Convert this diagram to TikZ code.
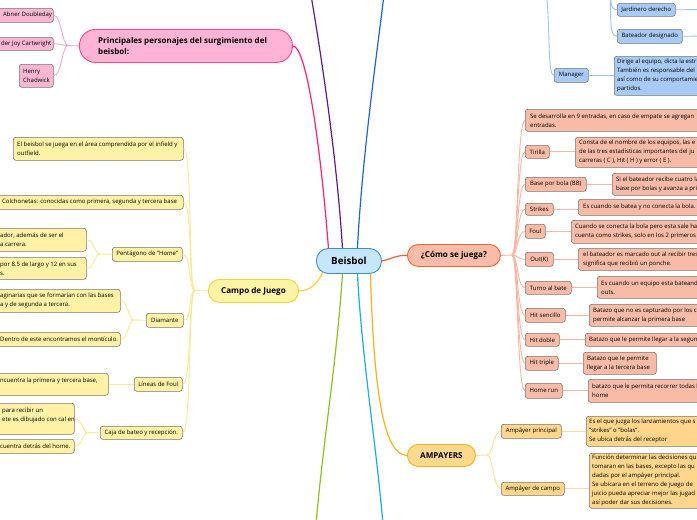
\documentclass[tikz,border=0pt]{standalone}
\usepackage{fontspec}
\setmainfont{Open Sans}
\newfontfamily\headfont{Open Sans}
\definecolor{kidline}{HTML}{7A7470}
\definecolor{pinkkid}{HTML}{F9B6D3}
\definecolor{yelkid}{HTML}{FFF1A6}
\definecolor{salkid}{HTML}{F8BBA7}
\definecolor{ampkid}{HTML}{FFD68C}
\definecolor{bluekid}{HTML}{A8CAF6}
\definecolor{pinkmain}{HTML}{FF2078}
\definecolor{pinkfill}{HTML}{FFB3D5}
\definecolor{pinkthin}{HTML}{F8A6CA}
\definecolor{purplemain}{HTML}{5C1A8A}
\definecolor{bluemain}{HTML}{2262D8}
\definecolor{greenmain}{HTML}{8CC21E}
\definecolor{cyanmain}{HTML}{1AAAF0}
\definecolor{orangemain}{HTML}{F8B218}
\definecolor{ampfill}{HTML}{FFD98C}
\definecolor{ampthin}{HTML}{FFDC94}
\definecolor{yelmain}{HTML}{F2D53A}
\definecolor{yelfill}{HTML}{FFF4A3}
\definecolor{yelthin}{HTML}{F8EA92}
\definecolor{salmain}{HTML}{F5622E}
\definecolor{salfill}{HTML}{F9BCA8}
\definecolor{salthin}{HTML}{F9B5A0}
\definecolor{beisfill}{HTML}{C6E7FA}
\definecolor{beisline}{HTML}{3A8ED6}
\definecolor{bluethin}{HTML}{9EC3F0}
\newcommand\kid[8][4]{%
  \node[#2, minimum width=#6pt, minimum height=#7pt] (#3) at (#4,#5) {};
  \node[txt] (#3t) at ([xshift=#1pt]#3.west) {#8};}
\newcommand\lab[7]{%
  \node[#1, minimum width=#5pt, minimum height=#6pt] (#2) at (#3,#4) {#7};}
\begin{document}
\begin{tikzpicture}[x=1pt,y=-1pt,
  box/.style={rectangle, rounded corners=2.5pt, draw=kidline, line width=0.6pt, inner sep=0pt, anchor=north west, font=\fontsize{6}{9}\selectfont},
  txt/.style={inner sep=0pt, anchor=west, align=left, font=\fontsize{6}{9}\selectfont},
  pkb/.style={box, fill=pinkkid}, ylb/.style={box, fill=yelkid}, sab/.style={box, fill=salkid},
  amb/.style={box, fill=ampkid}, blb/.style={box, fill=bluekid},
  head/.style={rectangle, inner sep=0pt, anchor=north west, line width=0.9pt, font=\headfont\bfseries\fontsize{8.1}{11}\selectfont},
  mainline/.style={line width=1.2pt},
  thin/.style={line width=0.9pt},
]
\useasboundingbox (0,0) rectangle (697,520);
\clip (0,0) rectangle (697,520);
\fill[white] (0,0) rectangle (697,520);

% ---------- central and main nodes ----------
\node[head, rounded corners=12pt, fill=beisfill, draw=beisline, minimum width=65pt, minimum height=25pt, font=\headfont\bfseries\fontsize{9.8}{11}\selectfont] (beis) at (316,248) {Beisbol};
\node[head, rounded corners=16pt, fill=pinkfill, draw=pinkmain!85, minimum width=213pt, minimum height=33pt] (pp) at (79,29) {};
\node[txt, font=\headfont\bfseries\fontsize{8}{11.5}\selectfont] (ppt) at ([xshift=19pt]pp.west) {Principales personajes del surgimiento del\\beisbol:};
\node[head, rounded corners=11pt, fill=yelfill, draw=yelmain, minimum width=90pt, minimum height=23pt] (campo) at (208,279) {Campo de Juego};
\node[head, rounded corners=11pt, fill=salfill, draw=salmain, minimum width=93pt, minimum height=22pt] (como) at (407,244) {¿Cómo se juega?};
\node[head, rounded corners=11pt, fill=ampfill, draw=orangemain, minimum width=68pt, minimum height=22pt] (amp) at (407,444) {AMPAYERS};

% ---------- main branches ----------
\coordinate (ptop) at (311,-5);
\coordinate (btop) at (384,-5);
\coordinate (gbot) at (316,525);
\coordinate (cbot) at (383,525);
\draw[mainline, pinkmain] (pp.east) .. controls (306,46) and (320,140) .. ([xshift=-20.5pt]beis.north);
\draw[mainline, purplemain] ([xshift=-6.5pt]beis.north) .. controls (337,160) and (322,60) .. (ptop);
\draw[mainline, bluemain] ([xshift=8.5pt]beis.north) .. controls (362,160) and (376,60) .. (btop);
\draw[mainline, greenmain] ([xshift=-6.5pt]beis.south) .. controls (337,360) and (322,450) .. (gbot);
\draw[mainline, cyanmain] ([xshift=8.5pt]beis.south) .. controls (362,360) and (377,450) .. (cbot);
\draw[mainline, orangemain] ([xshift=21.5pt]beis.south) .. controls (374,400) and (385,455) .. (amp.west);
\draw[mainline, yelmain] ([xshift=7pt,yshift=2pt]beis.south west) .. controls (316,287) and (308,290.5) .. (campo.east);
\draw[mainline, salmain] (beis.east) .. controls (392,259) and (396,255) .. (como.west);

% ---------- pink ----------
\kid[6]{pkb}{abner}{-3}{8}{56}{14}{Abner Doubleday}
\kid[4]{pkb}{cart}{-3}{37}{56}{13}{der Joy Cartwright}
\kid[4]{pkb}{henry}{19}{64}{34}{23}{Henry\\Chadwick}
\coordinate (jp) at (68,45.5);
\draw[thin, pinkthin] (pp.west) -- (jp);
\foreach \n in {abner,cart,henry} \draw[thin, pinkthin] (jp) .. controls +(-6,0) and +(8,0) .. (\n.east);

% ---------- yellow ----------
\kid[4]{ylb}{y1}{13}{137}{170}{23}{El beisbol se juega en el área comprendida por el infield y\\outfield.}
\kid[5]{ylb}{y2}{-3}{195}{186}{14}{Colchonetas: conocidas como primera, segunda y tercera base}
\lab{ylb}{pent}{112}{247}{70}{14}{Pentágono de "Home"}
\kid[3]{ylb}{ya}{-3}{228}{89}{23}{ador, además de ser el\\a carrera.}
\kid[3]{ylb}{yb}{-3}{257}{89}{22}{por 8.5 de largo y 12 en sus\\s.}
\lab{ylb}{diam}{146}{313}{37}{14}{Diamante}
\kid[3]{ylb}{yc}{-3}{289}{123}{23}{aginarias que se formarían con las bases\\a y de segunda a tercera.}
\kid[3]{ylb}{yd}{-3}{332}{123}{14}{Dentro de este encontramos el montículo.}
\lab{ylb}{lfoul}{134}{377}{48}{14}{Líneas de Foul}
\kid[3]{ylb}{ye}{-3}{373}{111}{22}{ncuentra la primera y tercera base,\\\mbox{}}
\lab{ylb}{caja}{100}{426}{82}{13}{Caja de bateo y recepción.}
\kid[5]{ylb}{yf}{-3}{403}{77}{31}{para recibir un\\ete es dibujado con cal en\\\mbox{}}
\kid[3]{ylb}{yg}{-3}{439}{77}{14}{cuentra detrás del home.}
\coordinate (jy) at (195,290.5);
\draw[thin, yelthin] (campo.west) -- (jy);
\foreach \n in {y1,y2,pent,diam,lfoul,caja} \draw[thin, yelthin] (jy) .. controls +(-7,0) and +(9,0) .. (\n.east);
\coordinate (jpe) at (100,254);
\draw[thin, yelthin] (pent.west) -- (jpe);
\foreach \n in {ya,yb} \draw[thin, yelthin] (jpe) .. controls +(-6,0) and +(8,0) .. (\n.east);
\coordinate (jdi) at (134,320);
\draw[thin, yelthin] (diam.west) -- (jdi);
\foreach \n in {yc,yd} \draw[thin, yelthin] (jdi) .. controls +(-6,0) and +(8,0) .. (\n.east);
\draw[thin, yelthin] (lfoul.west) -- (ye.east);
\coordinate (jca) at (88,432.5);
\draw[thin, yelthin] (caja.west) -- (jca);
\foreach \n in {yf,yg} \draw[thin, yelthin] (jca) .. controls +(-6,0) and +(8,0) .. (\n.east);

% ---------- salmon ----------
\kid[5]{sab}{s1}{525}{109}{200}{22}{Se desarrolla en 9 entradas, en caso de empate se agregan\\entradas.}
\lab{sab}{tir}{525}{145}{24}{13}{Tirilla}
\kid[4]{sab}{s2}{575}{137}{150}{30}{Consta de el nombre de los equipos, las e\\de las tres estadísticas importantes del ju\\carreras ( C ), Hit ( H ) y error ( E ).}
\lab{sab}{bb}{525}{177}{61}{14}{Base por bola (BB)}
\kid[4]{sab}{s3}{612}{173}{120}{22}{Si el bateador recibe cuatro la\\base por bolas y avanza a pri}
\lab{sab}{strk}{525}{203}{28}{12}{Strikes}
\kid[5]{sab}{s4}{578}{199}{125}{16}{Es cuando se batea y no conecta la bola.}
\lab{sab}{foul}{525}{224}{20}{14}{Foul}
\kid[4]{sab}{s5}{571}{220}{150}{23}{Cuando se conecta la bola pero esta sale ha\\cuenta como strikes, solo en los 2 primeros}
\lab{sab}{outk}{525}{252}{28}{14}{Out(K)}
\kid[5]{sab}{s6}{578}{248}{150}{22}{el bateador es marcado out al recibir tres\\significa que recibió un ponche.}
\lab{sab}{turno}{525}{281}{46}{13}{Turno al bate}
\kid[4]{sab}{s7}{597}{276}{120}{22}{Es cuando un equipo esta bateando\\outs.}
\lab{sab}{hs}{525}{308}{40}{14}{Hit sencillo}
\kid[4]{sab}{s8}{589}{304}{130}{22}{Batazo que no es capturado por los c\\permite alcanzar la primera base}
\lab{sab}{hd}{525}{333}{34}{13}{Hit doble}
\kid[4]{sab}{s9}{585}{333}{130}{13}{Batazo que le permite llegar a la segun}
\lab{sab}{ht}{525}{356}{33}{14}{Hit triple}
\kid[4]{sab}{s10}{583}{352}{73}{22}{Batazo que le permite\\llegar a la tercera base}
\lab{sab}{hr}{525}{383}{37}{15}{Home run}
\kid[4]{sab}{s11}{588}{379}{130}{23}{batazo que le permita recorrer todas l\\home}
\coordinate (js) at (512,255);
\draw[thin, salthin] (como.east) -- (js);
\foreach \n in {s1,tir,bb,strk,foul,outk,turno,hs,hd,ht,hr} \draw[thin, salthin] (js) .. controls +(6,0) and +(-8,0) .. (\n.west);
\draw[thin, salthin] (tir.east) -- (tir.east -| s2.west);
\draw[thin, salthin] (bb.east) -- (bb.east -| s3.west);
\draw[thin, salthin] (strk.east) -- (strk.east -| s4.west);
\draw[thin, salthin] (foul.east) -- (foul.east -| s5.west);
\draw[thin, salthin] (outk.east) -- (outk.east -| s6.west);
\draw[thin, salthin] (turno.east) -- (turno.east -| s7.west);
\draw[thin, salthin] (hs.east) -- (hs.east -| s8.west);
\draw[thin, salthin] (hd.east) -- (hd.east -| s9.west);
\draw[thin, salthin] (ht.east) -- (ht.east -| s10.west);
\draw[thin, salthin] (hr.east) -- (hr.east -| s11.west);

% ---------- ampayers ----------
\lab{amb}{ap}{501}{424}{60}{14}{Ampáyer principal}
\kid[3]{amb}{a1}{586}{416}{130}{30}{Es el que juzga los lanzamientos que s\\"strikes" o "bolas".\\Se ubica detrás del receptor}
\lab{amb}{ac}{501}{482}{63}{13}{Ampáyer de campo}
\kid[3]{amb}{a2}{589}{453}{130}{55}{Función determinar las decisiones qu\\tomaran en las bases, excepto las qu\\dadas por el ampáyer principal.\\Se ubicara en el terreno de juego de\\juicio pueda apreciar mejor las jugad\\así poder dar sus decisiones.}
\coordinate (ja) at (487,455);
\draw[thin, ampthin] (amp.east) -- (ja);
\foreach \n in {ap,ac} \draw[thin, ampthin] (ja) .. controls +(6,0) and +(-8,0) .. (\n.west);
\draw[thin, ampthin] (ap.east) -- (ap.east -| a1.west);
\draw[thin, ampthin] (ac.east) -- (ac.east -| a2.west);

% ---------- blue (top right) ----------
\lab{blb}{jar}{617}{3}{58}{13}{Jardinero derecho}
\lab{blb}{bat}{617}{29}{65}{14}{Bateador designado}
\lab{blb}{man}{554}{68}{34}{14}{Manager}
\kid[3]{blb}{m1}{614}{56}{120}{39}{Dirige al equipo, dicta la estr\\También es responsable del\\así como de su comportamie\\partidos.}
\coordinate (jbt) at (610,-25);
\coordinate (jmt) at (545,-25);
\coordinate (jre) at (705,9.5);
\coordinate (bre) at (705,36);
\draw[thin, bluethin] (jbt) .. controls (611,0) and (609,9.5) .. (jar.west);
\draw[thin, bluethin] (jbt) .. controls (611,20) and (609,36) .. (bat.west);
\draw[thin, bluethin] (jmt) .. controls (551,30) and (547,75) .. (man.west);
\draw[thin, bluethin] (man.east) -- (man.east -| m1.west);
\draw[thin, bluethin] (jar.east) -- (jre);
\draw[thin, bluethin] (bat.east) -- (bre);
\end{tikzpicture}
\end{document}
